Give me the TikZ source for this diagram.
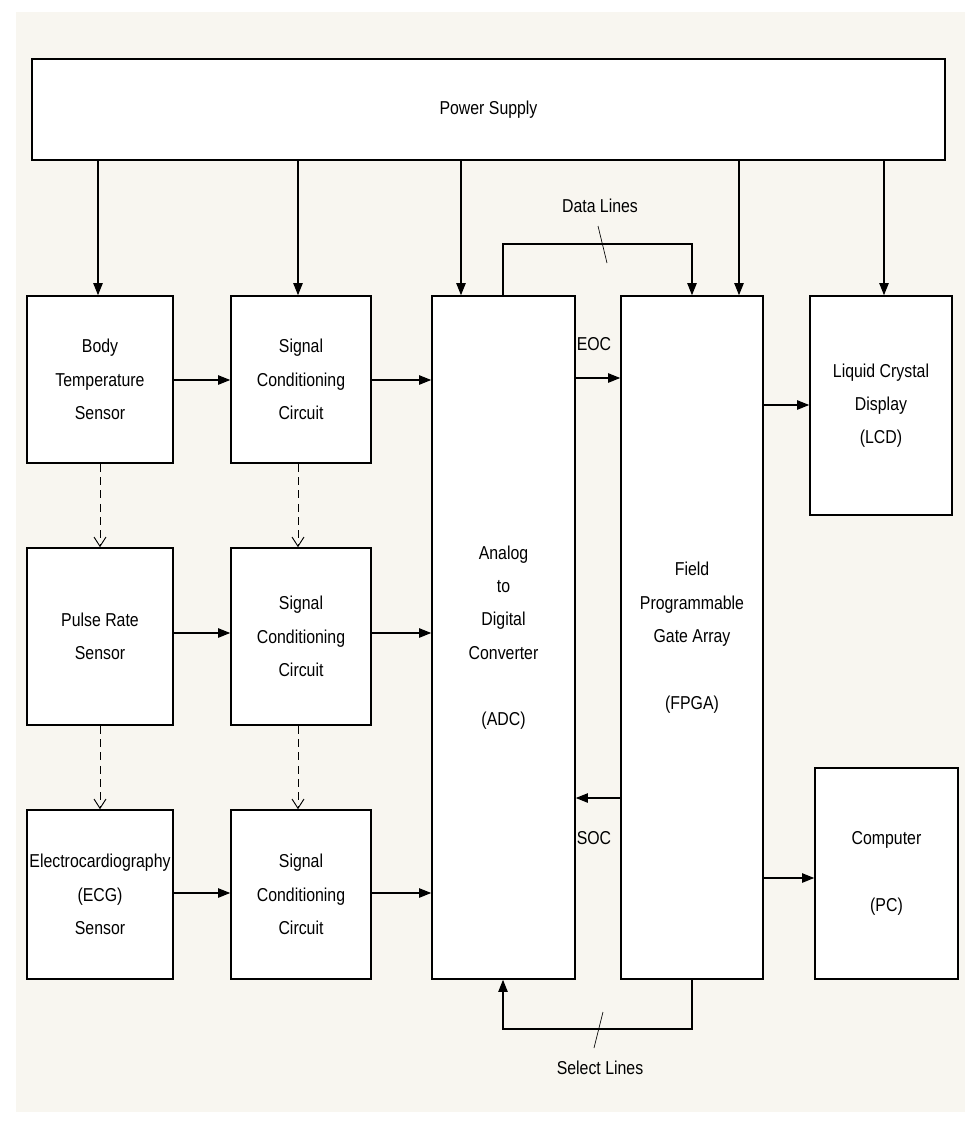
\documentclass[tikz,border=0pt]{standalone}
\usepackage{fontspec}
\setmainfont{Liberation Sans}[FakeStretch=0.85]
\usetikzlibrary{arrows.meta}
\definecolor{bg}{HTML}{F8F6F0}
\begin{document}
\begin{tikzpicture}[x=0.75pt,y=-0.75pt,
  blk/.style={draw,line width=1.2pt,fill=white,inner sep=0pt,align=center,font=\fontsize{14}{25}\selectfont},
  lab/.style={font=\fontsize{14}{25}\selectfont,inner sep=0pt},
  arr/.style={line width=0.9pt,-{Triangle[length=9pt,width=7pt]}},
  darr/.style={line width=0.7pt,dashed,dash pattern=on 6pt off 4pt,-{Straight Barb[length=7pt,width=9pt]}},
  ln/.style={line width=0.9pt}]
\useasboundingbox (0,0) rectangle (965,1121);
\fill[bg] (16,12) rectangle (965,1112);
\newcommand{\bx}[6]{\node[blk,minimum width={(#4-#2)*0.75pt},minimum height={(#5-#3)*0.75pt}] (#1) at ({(#2+#4)/2},{(#3+#5)/2}) {#6};}
\bx{ps}{32}{59}{945}{160}{Power Supply}
\bx{bt}{27}{296}{173}{463}{Body\\Temperature\\Sensor}
\bx{sc1}{231}{296}{371}{463}{Signal\\Conditioning\\Circuit}
\bx{pr}{27}{548}{173}{725}{Pulse Rate\\Sensor}
\bx{sc2}{231}{548}{371}{725}{Signal\\Conditioning\\Circuit}
\bx{ecg}{27}{810}{173}{979}{Electrocardiography\\(ECG)\\Sensor}
\bx{sc3}{231}{810}{371}{979}{Signal\\Conditioning\\Circuit}
\bx{adc}{432}{296}{575}{979}{Analog\\to\\Digital\\Converter\\\\(ADC)}
\bx{fpga}{621}{296}{763}{979}{Field\\Programmable\\Gate Array\\\\(FPGA)}
\bx{lcd}{810}{296}{952}{515}{Liquid Crystal\\Display\\(LCD)}
\bx{pc}{815}{768}{958}{979}{Computer\\\\(PC)}
% power arrows
\draw[arr] (ps.south-|98,0) -- (bt.north-|98,0);
\draw[arr] (ps.south-|298,0) -- (sc1.north-|298,0);
\draw[arr] (ps.south-|461,0) -- (adc.north-|461,0);
\draw[arr] (ps.south-|739,0) -- (fpga.north-|739,0);
\draw[arr] (ps.south-|884,0) -- (lcd.north-|884,0);
% signal arrows
\draw[arr] (bt.east|-0,380) -- (sc1.west|-0,380);
\draw[arr] (sc1.east|-0,380) -- (adc.west|-0,380);
\draw[arr] (pr.east|-0,633) -- (sc2.west|-0,633);
\draw[arr] (sc2.east|-0,633) -- (adc.west|-0,633);
\draw[arr] (ecg.east|-0,893) -- (sc3.west|-0,893);
\draw[arr] (sc3.east|-0,893) -- (adc.west|-0,893);
\draw[arr] (adc.east|-0,378) -- (fpga.west|-0,378);
\node[lab] (eoc) at (594,344) {EOC};
\draw[arr] (fpga.west|-0,798) -- (adc.east|-0,798);
\node[lab] (soc) at (594,838) {SOC};
\draw[arr] (fpga.east|-0,405) -- (lcd.west|-0,405);
\draw[arr] (fpga.east|-0,878) -- (pc.west|-0,878);
% dashed
\draw[darr] (bt.south) -- (pr.north);
\draw[darr] (sc1.south-|298,0) -- (sc2.north-|298,0);
\draw[darr] (pr.south) -- (ecg.north);
\draw[darr] (sc2.south-|298,0) -- (sc3.north-|298,0);
% data lines
\draw[arr] (adc.north-|503,0) -- (503,244) -- (692,244) -- (fpga.north-|692,0);
\node[lab] (dl) at (600,206) {Data Lines};
\draw[line width=0.5pt] (598,226) -- (607,263);
% select lines
\draw[arr] (fpga.south-|692,0) -- (692,1029) -- (503,1029) -- (adc.south-|503,0);
\node[lab] (sl) at (600,1068) {Select Lines};
\draw[line width=0.5pt] (603,1012) -- (594,1048);
\end{tikzpicture}
\end{document}
